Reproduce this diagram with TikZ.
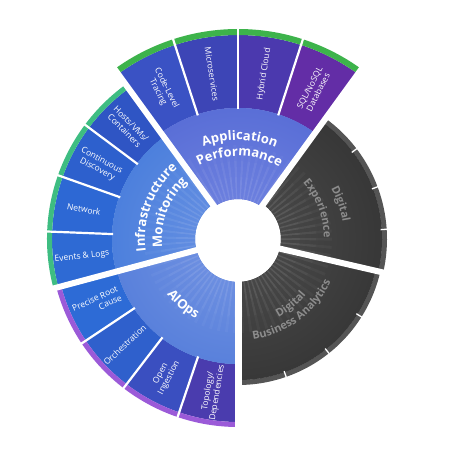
\documentclass[tikz,border=0pt]{standalone}
\usepackage{fontspec}
\setmainfont{Open Sans}
\usetikzlibrary{decorations.text}
\definecolor{appA}{HTML}{3A52C4}
\definecolor{appB}{HTML}{3D45B6}
\definecolor{appC}{HTML}{4B39AE}
\definecolor{appD}{HTML}{632DA6}
\definecolor{appCore}{HTML}{4A60D0}
\definecolor{appGlow}{HTML}{7487E2}
\definecolor{bandGreen}{HTML}{3DB34B}
\definecolor{inA}{HTML}{2F55C4}
\definecolor{inB}{HTML}{2D60CD}
\definecolor{inC}{HTML}{2D68D4}
\definecolor{inD}{HTML}{2E6AD4}
\definecolor{inCore}{HTML}{3A74D8}
\definecolor{inGlow}{HTML}{6C94E4}
\definecolor{bandTeal}{HTML}{3EBD82}
\definecolor{aiA}{HTML}{2D6BD6}
\definecolor{aiB}{HTML}{2F60CC}
\definecolor{aiC}{HTML}{3A4FC0}
\definecolor{aiD}{HTML}{4A3CAE}
\definecolor{aiCore}{HTML}{4874D6}
\definecolor{aiGlow}{HTML}{7696E4}
\definecolor{bandPurple}{HTML}{9B5AD8}
\definecolor{grayCore}{HTML}{303030}
\definecolor{grayGlow}{HTML}{4E4E4E}
\definecolor{grayBand}{HTML}{555555}
\definecolor{grayText}{HTML}{8C8C8C}
\newcommand{\corefont}{\fontsize{13}{15}\selectfont\bfseries}
\newcommand{\grayfont}{\fontsize{11}{13}\selectfont\bfseries}
\newcommand{\raysin}[3]{% start, step, end angle
  \foreach \a in {#1,#2,...,#3} {
    \foreach \rr in {62,78,94} {
      \fill[ray] (0,0) -- (\a:\rr pt) arc[start angle=\a, end angle=\a+1.8, radius=\rr pt] -- cycle;}}}
\tikzset{
  sec/.style args={#1:#2:#3:#4}{insert path={(#1:#3pt) -- (#1:#4pt) arc[start angle=#1,end angle=#2,radius=#4pt] -- (#2:#3pt) arc[start angle=#2,end angle=#1,radius=#3pt] -- cycle}},
  gapline/.style={white, line width=6pt},
  sepline/.style={white, line width=2.2pt},
  tickline/.style={white, line width=1.3pt},
  ringlbl/.style={text=white, font=\fontsize{8.5}{9.5}\selectfont, align=center, inner sep=0pt},
  ray/.style={white, opacity=0.035},
}
\begin{document}
\begin{tikzpicture}[x=1pt,y=1pt]
\useasboundingbox (0,0) rectangle (474,474);
\fill[white] (0,0) rectangle (474,474);
\begin{scope}[shift={(238,235)}]
% ---------- Application Performance ----------
\fill[appD, sec=54:72:131:204];
\fill[appC, sec=72:90:131:204];
\fill[appB, sec=90:108:131:204];
\fill[appA, sec=108:126:131:204];
\fill[bandGreen, sec=54:126:204:210];
\begin{scope}
  \clip[sec=54:126:40:131];
  \fill[appCore] (0,0) circle (140pt);
  \shade[inner color=appGlow, outer color=appCore] (0,0) circle (210pt);
  \raysin{56}{61}{124}
\end{scope}
% ---------- Infrastructure Monitoring ----------
\fill[inA, sec=126:143.25:126:186];
\fill[inB, sec=143.25:160.5:126:186];
\fill[inC, sec=160.5:177.75:126:186];
\fill[inD, sec=177.75:195:126:186];
\fill[bandTeal, sec=126:195:186:191];
\begin{scope}
  \clip[sec=126:195:43:126];
  \fill[inCore] (0,0) circle (140pt);
  \shade[inner color=inGlow, outer color=inCore] (0,0) circle (200pt);
  \raysin{128}{133}{194}
\end{scope}
% ---------- AIOps ----------
\fill[aiA, sec=195:213.75:125:183];
\fill[aiB, sec=213.75:232.5:125:183];
\fill[aiC, sec=232.5:251.25:125:183];
\fill[aiD, sec=251.25:270:125:183];
\fill[bandPurple, sec=195:270:183:188];
\begin{scope}
  \clip[sec=195:270:43:125];
  \fill[aiCore] (0,0) circle (140pt);
  \shade[inner color=aiGlow, outer color=aiCore] (0,0) circle (200pt);
  \raysin{197}{202}{269}
\end{scope}
% ---------- Digital Business Analytics ----------
\fill[grayBand, sec=-90:-13:141:146];
\begin{scope}
  \clip[sec=-90:-13:43:141];
  \fill[grayCore] (0,0) circle (150pt);
  \shade[inner color=grayGlow, outer color=grayCore] (0,0) circle (190pt);
  \raysin{-88}{-83}{-14}
\end{scope}
% ---------- Digital Experience ----------
\fill[grayBand, sec=-13:54:144:149];
\begin{scope}
  \clip[sec=-13:54:43:144];
  \fill[grayCore] (0,0) circle (150pt);
  \shade[inner color=grayGlow, outer color=grayCore] (0,0) circle (190pt);
  \raysin{-11}{-6}{53}
\end{scope}
% ---------- separators ----------
\foreach \a in {72,90,108} \draw[sepline] (\a:130pt) -- (\a:212pt);
\foreach \a in {143.25,160.5,177.75} \draw[sepline] (\a:125pt) -- (\a:193pt);
\foreach \a in {213.75,232.5,251.25} \draw[sepline] (\a:124pt) -- (\a:190pt);
\foreach \a in {-70.75,-51.5,-32.25} \draw[tickline] (\a:140pt) -- (\a:147pt);
\foreach \a in {3.75,20.5,37.25} \draw[tickline] (\a:143pt) -- (\a:150pt);
% ---------- gaps ----------
\foreach \a in {54,126,195,347} \draw[gapline] (0,0) -- (\a:216pt);
\draw[white, line width=7pt] (0,0) -- (270:216pt);
\fill[white] (0,0) circle (38pt);
% ---------- ring labels ----------
\node[ringlbl, rotate=-63] (cl) at (117:167pt) {Code-Level\\Tracing};
\node[ringlbl, rotate=-81] (ms) at (99:167pt) {Microservices};
\node[ringlbl, rotate=81] (hc) at (81:167pt) {Hybrid Cloud};
\node[ringlbl, rotate=63] (sql) at (63:167pt) {SQL/NoSQL\\Databases};
\node[ringlbl, rotate=-45.4] (hv) at (134.6:157pt) {Hosts/VMs/\\Containers};
\node[ringlbl, rotate=-28.1] (cd) at (151.9:157pt) {Continuous\\Discovery};
\node[ringlbl, rotate=-10.9] (nw) at (169.1:157pt) {Network};
\node[ringlbl, rotate=6.4] (el) at (186.4:157pt) {Events \& Logs};
\node[ringlbl, rotate=24.4, align=right] (prc) at (204.4:155pt) {Precise Root\\Cause};
\node[ringlbl, rotate=43.1] (orc) at (223.1:155pt) {Orchestration};
\node[ringlbl, rotate=61.9] (oi) at (241.9:155pt) {Open\\Ingestion};
\node[ringlbl, rotate=80.6] (td) at (260.6:155pt) {Topology/\\Dependencies};
% ---------- core labels (curved) ----------
\path[decorate, decoration={text along path, text align=center, text color=white, text={|\corefont|Application}}]
  (139:99pt) arc[start angle=139, end angle=39, radius=99pt];
\path[decorate, decoration={text along path, text align=center, text color=white, text={|\corefont|Performance}}]
  (139:83pt) arc[start angle=139, end angle=39, radius=83pt];
\path[decorate, decoration={text along path, text align=center, text color=white, text={|\corefont|Infrastructure}}]
  (209:93pt) arc[start angle=209, end angle=109, radius=93pt];
\path[decorate, decoration={text along path, text align=center, text color=white, text={|\corefont|Monitoring}}]
  (209:76pt) arc[start angle=209, end angle=109, radius=76pt];
\path[decorate, decoration={text along path, text align=center, text color=white, text={|\corefont|AIOps}}]
  (180:90pt) arc[start angle=180, end angle=280, radius=90pt];
\path[decorate, decoration={text along path, text align=center, text color=grayText, text={|\grayfont|Digital}}]
  (69:106pt) arc[start angle=69, end angle=-31, radius=106pt];
\path[decorate, decoration={text along path, text align=center, text color=grayText, text={|\grayfont|Experience}}]
  (71:86pt) arc[start angle=71, end angle=-29, radius=86pt];
\path[decorate, decoration={text along path, text align=center, text color=grayText, text={|\grayfont|Digital}}]
  (-101:88pt) arc[start angle=-101, end angle=-1, radius=88pt];
\path[decorate, decoration={text along path, text align=center, text color=grayText, text={|\grayfont|Business Analytics}}]
  (-103:102pt) arc[start angle=-103, end angle=-3, radius=102pt];
\end{scope}
\end{tikzpicture}
\end{document}
